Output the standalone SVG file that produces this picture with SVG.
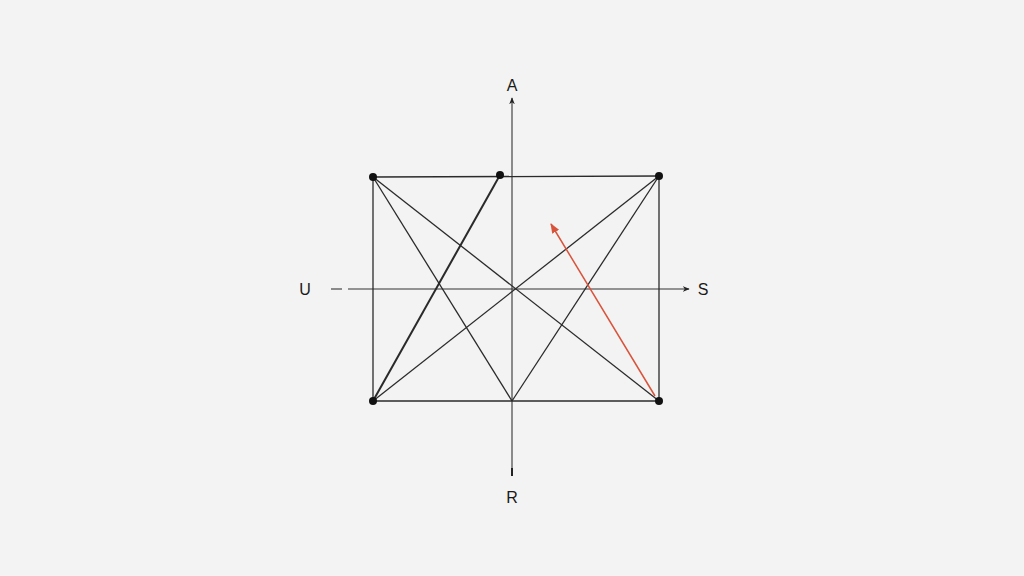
<svg xmlns="http://www.w3.org/2000/svg" width="1024" height="576" viewBox="0 0 1024 576">
<defs>
<style>
.ln{stroke:#2a2a2a;stroke-width:1.3;fill:none}
.ax{stroke:#333;stroke-width:1.1;fill:none}
.lb{font-family:"Liberation Sans",Arial,sans-serif;font-size:16px;fill:#1a1a1a;text-anchor:middle}
.pt{fill:#111}
</style>
<marker id="ah" viewBox="0 0 10 10" refX="9" refY="5" markerWidth="7" markerHeight="7" orient="auto-start-reverse" markerUnits="userSpaceOnUse"><path d="M0,1 L10,5 L0,9 L3,5 Z" fill="#222"/></marker>
<marker id="ahr" viewBox="0 0 10 10" refX="9" refY="5" markerWidth="10" markerHeight="10" orient="auto" markerUnits="userSpaceOnUse"><path d="M0,1 L10,5 L0,9 Z" fill="#d9533a"/></marker>
</defs>
<rect width="1024" height="576" fill="#f3f3f3"/>
<g id="connectors">
<line class="ax" x1="512" y1="476" x2="512" y2="98" marker-end="url(#ah)"/>
<line x1="512" y1="468" x2="512" y2="476" stroke="#222" stroke-width="2"/>
<line class="ax" x1="331" y1="289" x2="342" y2="289"/>
<line class="ax" x1="348" y1="289" x2="689" y2="289" marker-end="url(#ah)"/>
<line class="ln" x1="373" y1="177" x2="659" y2="176"/>
<line class="ln" x1="373" y1="401" x2="659" y2="401"/>
<line class="ln" x1="373" y1="177" x2="373" y2="401"/>
<line class="ln" x1="659" y1="176" x2="659" y2="401"/>
<line class="ln" x1="373" y1="177" x2="659" y2="401"/>
<line class="ln" x1="373" y1="401" x2="659" y2="176"/>
<line class="ln" x1="373" y1="177" x2="512" y2="401"/>
<line class="ln" x1="512" y1="401" x2="659" y2="176"/>
<line class="ln" x1="500" y1="175" x2="373" y2="401" style="stroke-width:2"/>
<line x1="655" y1="396" x2="551" y2="224" stroke="#d9533a" stroke-width="1.5" marker-end="url(#ahr)"/>
</g>
<g id="node-TL"><circle class="pt" cx="373" cy="177" r="4"/></g>
<g id="node-TM"><circle class="pt" cx="500" cy="175" r="4"/></g>
<g id="node-TR"><circle class="pt" cx="659" cy="176" r="4"/></g>
<g id="node-BL"><circle class="pt" cx="373" cy="401" r="4"/></g>
<g id="node-BR"><circle class="pt" cx="659" cy="401" r="4"/></g>
<g id="label-A"><text class="lb" x="512" y="91">A</text></g>
<g id="label-U"><text class="lb" x="305" y="295">U</text></g>
<g id="label-S"><text class="lb" x="703" y="295">S</text></g>
<g id="label-R"><text class="lb" x="512" y="503">R</text></g>
</svg>
